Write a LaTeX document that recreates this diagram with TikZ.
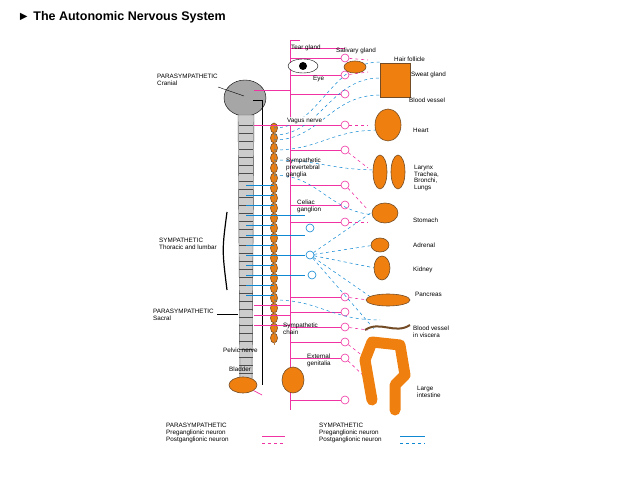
\documentclass[tikz,border=0pt]{standalone}
\usepackage{fontspec}
\setmainfont{Liberation Sans}
\usetikzlibrary{shapes.geometric}
\begin{document}
\begin{tikzpicture}[x=1pt,y=-1pt,
 lbl/.style={font=\fontsize{6.3}{6.8}\selectfont,align=left,anchor=west,inner sep=1pt},
 organ/.style={fill=orange!75!brown,draw=brown!60!black,line width=0.6pt},
 par/.style={magenta!80,line width=0.7pt},
 parpost/.style={magenta!80,dashed,line width=0.6pt},
 sym/.style={cyan!70!blue,line width=0.6pt},
 sympost/.style={cyan!70!blue,dashed,line width=0.5pt},
 gang/.style={circle,draw=magenta!80,minimum size=8pt,inner sep=0pt,line width=0.6pt}]
\useasboundingbox (0,0) rectangle (638,478);
\fill[white] (0,0) rectangle (638,478);
\node[anchor=west,font=\bfseries\fontsize{12.5}{14}\selectfont] (title) at (14,17) {► The Autonomic Nervous System};
% brain and spinal cord
\node[ellipse,fill=gray!70,draw=black,minimum width=42pt,minimum height=36pt] (brain) at (245,98) {};
\fill[gray!40,draw=gray!60!black] (238,115) -- (254,115) -- (252,385) -- (240,385) -- cycle;
\foreach \y in {125,133,...,380} \draw[gray!60!black,line width=0.3pt] (239,\y) -- (253,\y);
\draw[very thick] (227,212) .. controls (222,250) .. (227,290);
\draw[thick] (253,100) -- (262,100) -- (262,385);
% sympathetic chain
\foreach \y in {128,138,...,340} \node[ellipse,organ,minimum width=7pt,minimum height=10pt,inner sep=0pt] at (274,\y) {};
\draw[brown,line width=1pt] (274,125) -- (274,345);
% parasympathetic vertical line
\draw[par] (290,40) -- (290,410);
\draw[par] (254,90) -- (290,90);
\draw[par] (254,125) -- (290,125);
\foreach \y in {305,315,325} \draw[par] (254,\y) -- (290,\y);
% sympathetic preganglionic
\foreach \y in {185,195,...,300} \draw[sym] (246,\y) -- (274,\y);
\foreach \y in {215,235,255,275} \draw[sym] (274,\y) -- (305,\y);
\node[gang,draw=cyan!70!blue] (cel1) at (310,228) {};
\node[gang,draw=cyan!70!blue] (cel2) at (310,255) {};
\node[gang,draw=cyan!70!blue] (cel3) at (312,275) {};
% ganglia near organs
\foreach \n/\y in {g1/58,g2/75,g3/94,g4/125,g5/150,g6/185,g7/205,g8/222,g9/297,g10/312,g11/327,g12/342,g13/358,g14/400}
  \node[gang] (\n) at (345,\y) {};
\foreach \n in {g1,g2,g3,g4,g5,g6,g7,g8,g9,g10,g11,g12,g13,g14} \draw[par] (290,0 |- \n) -- (\n);
\foreach \n/\t in {g1/60,g2/72,g4/125,g5/168,g6/210,g8/222,g9/300,g11/330,g12/360,g13/380}
  \draw[parpost] (\n) -- (368,\t);
\draw[par] (290,40) -- (300,40);
\draw[par] (290,48) -- (345,48);
% dashed sympathetic postganglionic
\foreach \a/\b in {128/62,135/78,140/95,150/130,160/170,175/215,300/320}
  \draw[sympost] (274,\a) .. controls (320,\a) and (330,\b) .. (380,\b);
\foreach \b in {210,245,268,300,330} \draw[sympost] (cel2) -- (375,\b);
% organs
\node[ellipse,fill=white,draw=black,minimum width=30pt,minimum height=14pt] (eye) at (303,66) {};
\node[circle,fill=black,minimum size=8pt,inner sep=0pt] at (303,66) {};
\node[ellipse,organ,minimum width=22pt,minimum height=12pt] (saliv) at (355,67) {};
\node[organ,minimum width=30pt,minimum height=34pt] (skin) at (395,80) {};
\node[ellipse,organ,minimum width=26pt,minimum height=32pt] (heart) at (388,125) {};
\node[ellipse,organ,minimum width=14pt,minimum height=34pt] (lungL) at (380,172) {};
\node[ellipse,organ,minimum width=14pt,minimum height=34pt] (lungR) at (398,172) {};
\node[ellipse,organ,minimum width=26pt,minimum height=20pt] (stom) at (385,213) {};
\node[ellipse,organ,minimum width=18pt,minimum height=14pt] (adr) at (380,245) {};
\node[ellipse,organ,minimum width=16pt,minimum height=24pt] (kid) at (382,268) {};
\node[ellipse,organ,minimum width=44pt,minimum height=12pt] (panc) at (388,300) {};
\draw[brown!60!black,line width=2pt] (365,330) .. controls (380,320) and (395,335) .. (410,325);
\draw[orange!75!brown,line width=11pt,line join=round,line cap=round] (372,400) -- (365,360) -- (372,342) -- (400,345) -- (405,375) -- (395,385) -- (395,410);
\node[ellipse,organ,minimum width=28pt,minimum height=16pt] (blad) at (243,385) {};
\node[ellipse,organ,minimum width=22pt,minimum height=26pt] (gen) at (293,380) {};
\draw[par] (blad) -- (262,395);
% labels
\node[lbl] at (290,48) {Tear gland};
\node[lbl] at (335,51) {Salivary gland};
\node[lbl] at (393,59) {Hair follicle};
\node[lbl] at (410,75) {Sweat gland};
\node[lbl] at (312,79) {Eye};
\node[lbl] at (408,100) {Blood vessel};
\node[lbl,fill=white] at (286,121) {Vagus nerve};
\node[lbl] at (412,130) {Heart};
\node[lbl] at (413,178) {Larynx\\Trachea,\\Bronchi,\\Lungs};
\node[lbl] at (285,168) {Sympathetic\\prevertebral\\ganglia};
\node[lbl] at (296,206) {Celiac\\ganglion};
\node[lbl] at (412,220) {Stomach};
\node[lbl] at (412,245) {Adrenal};
\node[lbl] at (412,270) {Kidney};
\node[lbl] at (414,294) {Pancreas};
\node[lbl] at (412,332) {Blood vessel\\in viscera};
\node[lbl] at (416,392) {Large\\intestine};
\node[lbl] at (156,80) {PARASYMPATHETIC\\Cranial};
\node[lbl] at (158,244) {SYMPATHETIC\\Thoracic and lumbar};
\node[lbl] at (152,315) {PARASYMPATHETIC\\Sacral};
\node[lbl] at (282,329) {Sympathetic\\chain};
\node[lbl] at (222,350) {Pelvic nerve};
\node[lbl] at (228,369) {Bladder};
\node[lbl] at (306,360) {External\\genitalia};
\draw (218,87) -- (244,96);
\draw (217,314) -- (238,314);
% legend
\node[lbl,font=\fontsize{6.3}{7}\selectfont] (lp) at (165,433) {PARASYMPATHETIC\\Preganglionic neuron\\Postganglionic neuron};
\node[lbl,font=\fontsize{6.3}{7}\selectfont] (ls) at (318,433) {SYMPATHETIC\\Preganglionic neuron\\Postganglionic neuron};
\draw[par] (262,436) -- (285,436);
\draw[parpost] (262,443) -- (285,443);
\draw[sym] (400,436) -- (425,436);
\draw[sympost] (400,443) -- (425,443);
\end{tikzpicture}
\end{document}
